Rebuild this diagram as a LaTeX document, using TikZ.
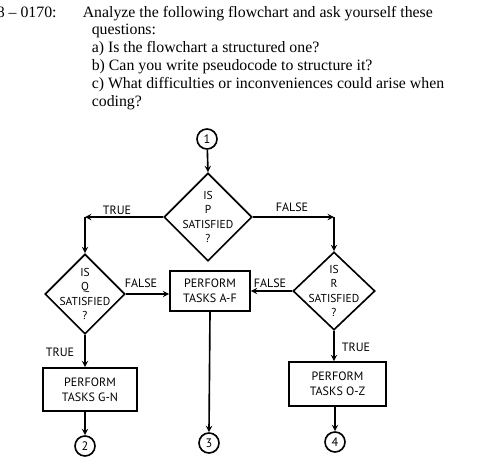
\documentclass[tikz,border=0pt]{standalone}
\usepackage{fontspec}
\setmainfont{Liberation Serif}
\newfontfamily\handfont{PT Sans}
\usetikzlibrary{shapes.geometric,positioning}
\tikzset{
  ask/.style={diamond,draw,line width=1.4pt,inner sep=-12pt,align=center,
    font=\handfont\fontsize{9.8}{12.5}\selectfont},
  task/.style={rectangle,draw,line width=1.4pt,inner sep=0pt,align=center,
    font=\handfont\fontsize{10.3}{12.5}\selectfont},
  onpage/.style={circle,draw,line width=1.4pt,minimum size=0.6cm,inner sep=0pt,
    font=\handfont\fontsize{10.5}{12}\selectfont},
  tag/.style={font=\handfont\fontsize{10.3}{12}\selectfont,inner sep=0pt},
  head/.style={anchor=base west,font=\fontsize{13.5}{15}\selectfont,inner sep=0pt}
}
\begin{document}
\begin{tikzpicture}[x=0.03cm,y=-0.03cm,>=stealth,line width=1.4pt]
  \useasboundingbox (0,0) rectangle (496,468);
  \node[head] (num) at (-4,17) {8 -- 0170:};
  \node[head] (line0) at (82,17) {Analyze the following flowchart and ask yourself these};
  \foreach \t [count=\i] in {questions:,a) Is the flowchart a structured one?,b) Can you write pseudocode to structure it?,c) What difficulties or inconveniences could arise when,coding?}
    \node[head] (line\i) at (91,17+17.9*\i) {\t};

  \node[onpage] (c1) at (207,139) {1};
  \node[ask,minimum width=2.64cm,minimum height=2.64cm] (p) at (208,217) {IS\\P\\SATISFIED\\?};
  \node[ask,minimum width=2.4cm,minimum height=2.4cm] (q) at (85,294) {IS\\Q\\SATISFIED\\?};
  \node[ask,minimum width=2.46cm,minimum height=2.34cm] (r) at (334,291) {IS\\R\\SATISFIED\\?};
  \node[task,minimum width=2.4cm,minimum height=1.2cm] (af) at (210,291) {PERFORM\\TASKS A-F};
  \node[task,minimum width=2.82cm,minimum height=1.29cm] (gn) at (90,389.5) {PERFORM\\TASKS G-N};
  \node[task,minimum width=2.91cm,minimum height=1.32cm] (oz) at (337.5,384) {PERFORM\\TASKS O-Z};
  \node[onpage] (c2) at (85,446) {2};
  \node[onpage] (c3) at (209,443) {3};
  \node[onpage] (c4) at (335,442) {4};

  \coordinate (tl) at (q.north |- p.west);
  \coordinate (tr) at (r.north |- p.east);
  \draw[->] (c1) -- (p.north);
  \draw[->] (p.west) -- (tl);
  \draw[->] (tl) -- (q.north);
  \draw[->] (p.east) -- (tr);
  \draw[->] (tr) -- (r.north);
  \draw[->] (q.east) -- (q.east -| af.west);
  \draw[->] (r.west) -- (r.west -| af.east);
  \draw[->] (af.south) -- (c3.north);
  \draw[->] (q.south) -- (q.south |- gn.north);
  \draw[->] (c2.north |- gn.south) -- (c2.north);
  \draw[->] (r.south) -- (r.south |- oz.north);
  \draw[->] (c4.north |- oz.south) -- (c4.north);

  \node[tag] (ptrue) at (117,210) {TRUE};
  \node[tag] (pfalse) at (292,207) {FALSE};
  \node[tag] (qfalse) at (141,283) {FALSE};
  \node[tag] (rfalse) at (270,283) {FALSE};
  \node[tag] (qtrue) at (60,352) {TRUE};
  \node[tag] (rtrue) at (356,347) {TRUE};
\end{tikzpicture}
\end{document}
